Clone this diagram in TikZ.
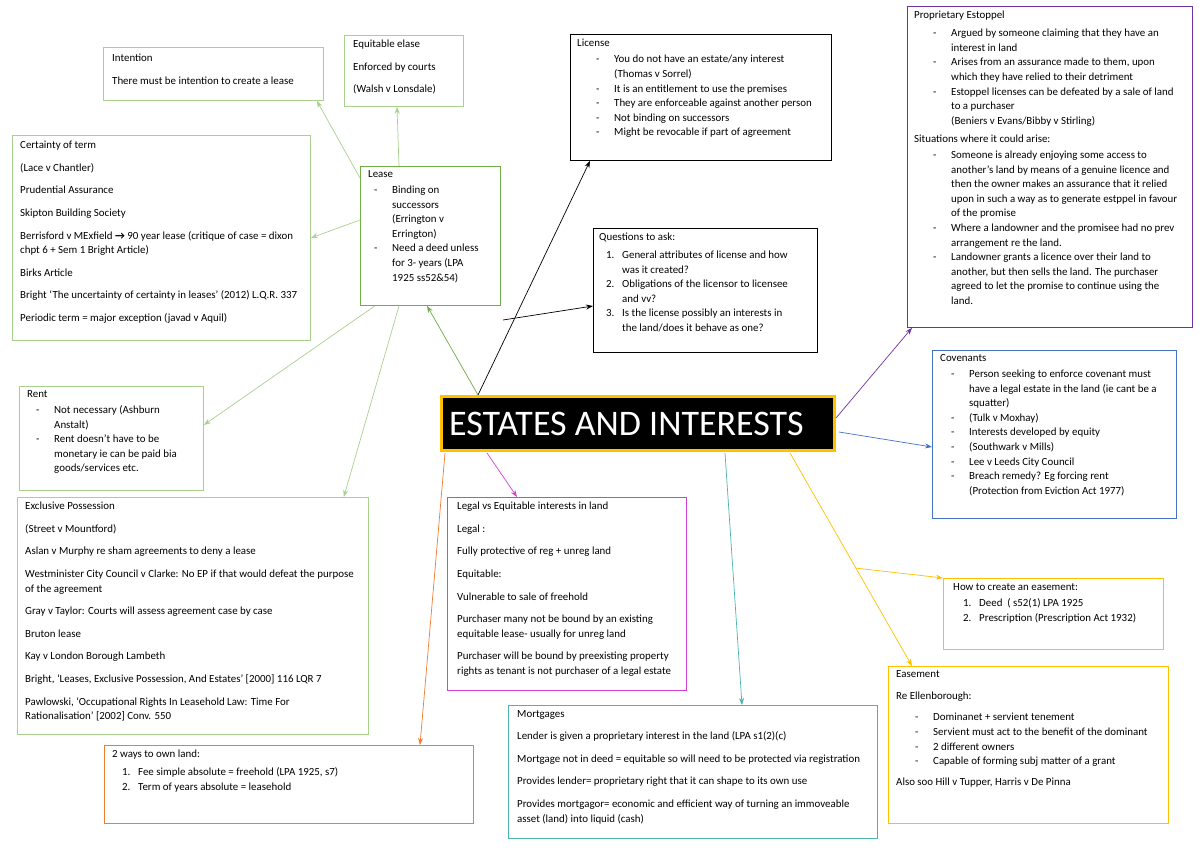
\documentclass[tikz,border=0pt]{standalone}
\usepackage{fontspec}
\setmainfont{Carlito}
\usetikzlibrary{calc,arrows.meta}
\definecolor{lg}{HTML}{A9D18E}
\definecolor{gr}{HTML}{70AD47}
\definecolor{mg}{HTML}{D63FD6}
\definecolor{og}{HTML}{ED7D31}
\definecolor{tl}{HTML}{4BB3B0}
\definecolor{yl}{HTML}{FFC000}
\definecolor{pp}{HTML}{7030A0}
\definecolor{bl}{HTML}{4472C4}
\newcommand{\bx}[7]{\node[draw=#2,line width=#7,anchor=north west,minimum width=#5pt,minimum height=#6pt,inner sep=0] (#1) at (#3,#4) {};}
\newcommand{\tx}[4]{\node[anchor=north west,inner sep=0,align=left,font=\fontsize{10.9}{14.6}\selectfont] (#1) at (#2,#3) {#4};}
\newenvironment{dl}[1]{\begin{tabular}{@{\hspace{#1pt}}p{6pt}@{\hspace{12pt}}l@{}}}{\end{tabular}}
\newenvironment{nl}[1]{\begin{tabular}{@{\hspace{#1pt}}p{8pt}@{\hspace{8pt}}l@{}}}{\end{tabular}}
\tikzset{ar/.style={-{Stealth[length=7pt,width=5pt]},line width=0.7pt}}
\begin{document}
\begin{tikzpicture}[x=1pt,y=-1pt]
\useasboundingbox[fill=white] (0,0) rectangle (1200,848);
% boxes
\bx{intention}{lg}{103}{47}{220}{53}{0.8pt}
\bx{equit}{lg}{344}{35}{119}{71}{0.8pt}
\bx{license}{black}{570}{34}{261}{126}{0.8pt}
\bx{estoppel}{pp}{907}{6}{285}{321}{0.8pt}
\bx{certainty}{lg}{12}{135}{298}{205}{0.8pt}
\bx{lease}{gr}{360}{166}{140}{139}{0.8pt}
\bx{questions}{black}{593}{228}{224}{124}{0.8pt}
\bx{covenants}{bl}{932}{350}{244}{168}{1pt}
\bx{rent}{lg}{19}{386}{184}{104}{0.8pt}
\node[draw=yl,fill=black,line width=3pt,anchor=north west,minimum width=393pt,minimum height=54pt,inner sep=0] (central) at (440,395) {};
\node[text=white,font=\fontsize{36}{40}\selectfont,anchor=west,inner sep=0] (title) at (449,424) {ESTATES AND INTERESTS};
\bx{excl}{lg}{17}{497}{351}{237}{0.8pt}
\bx{legal}{mg}{447}{497}{239}{193}{0.8pt}
\bx{howto}{yl}{943}{578}{220}{71}{1pt}
\bx{easement}{yl}{888}{666}{280}{157}{1pt}
\bx{mortg}{tl}{508}{705}{369}{133}{0.8pt}
\bx{ways}{og}{104}{745}{369}{78}{0.8pt}
% texts
\tx{t1}{112}{54}{Intention\\[8pt]There must be intention to create a lease}
\tx{t2}{353}{40}{Equitable elase\\[8pt]Enforced by courts\\[8pt](Walsh v Lonsdale)}
\tx{t3}{577}{39}{License\\[5pt]\begin{dl}{19}
- & You do not have an estate/any interest\\
 & (Thomas v Sorrel)\\
- & It is an entitlement to use the premises\\
- & They are enforceable against another person\\
- & Not binding on successors\\
- & Might be revocable if part of agreement
\end{dl}}
\tx{t4}{914}{11}{Proprietary Estoppel\\[5pt]\begin{dl}{19}
- & Argued by someone claiming that they have an\\
 & interest in land\\
- & Arises from an assurance made to them, upon\\
 & which they have relied to their detriment\\
- & Estoppel licenses can be defeated by a sale of land\\
 & to a purchaser\\
 & (Beniers v Evans/Bibby v Stirling)
\end{dl}\\[5pt]
Situations where it could arise:\\[5pt]
\begin{dl}{19}
- & Someone is already enjoying some access to\\
 & another's land by means of a genuine licence and\\
 & then the owner makes an assurance that it relied\\
 & upon in such a way as to generate estppel in favour\\
 & of the promise\\
- & Where a landowner and the promisee had no prev\\
 & arrangement re the land.\\
- & Landowner grants a licence over their land to\\
 & another, but then sells the land. The purchaser\\
 & agreed to let the promise to continue using the\\
 & land.
\end{dl}}
\tx{t5}{20}{141}{Certainty of term\\[8pt](Lace v Chantler)\\[8pt]Prudential Assurance\\[8pt]Skipton Building Society\\[8pt]Berrisford v MExfield \textbf{→} 90 year lease (critique of case = dixon\\chpt 6 + Sem 1 Bright Article)\\[8pt]Birks Article\\[8pt]Bright ‘The uncertainty of certainty in leases’ (2012) L.Q.R. 337\\[8pt]Periodic term = major exception (javad v Aquil)}
\tx{t6}{368}{170}{Lease\\[5pt]\begin{dl}{6}
- & Binding on\\
 & successors\\
 & (Errington v\\
 & Errington)\\
- & Need a deed unless\\
 & for 3- years (LPA\\
 & 1925 ss52\&54)
\end{dl}}
\tx{t7}{599}{233}{Questions to ask:\\[5pt]\begin{nl}{7}
1. & General attributes of license and how\\
 & was it created?\\
2. & Obligations of the licensor to licensee\\
 & and vv?\\
3. & Is the license possibly an interests in\\
 & the land/does it behave as one?
\end{nl}}
\tx{t8}{940}{354}{Covenants\\[5pt]\begin{dl}{11}
- & Person seeking to enforce covenant must\\
 & have a legal estate in the land (ie cant be a\\
 & squatter)\\
- & (Tulk v Moxhay)\\
- & Interests developed by equity\\
- & (Southwark v Mills)\\
- & Lee v Leeds City Council\\
- & Breach remedy? Eg forcing rent\\
 & (Protection from Eviction Act 1977)
\end{dl}}
\tx{t9}{27}{390}{Rent\\[5pt]\begin{dl}{9}
- & Not necessary (Ashburn\\
 & Anstalt)\\
- & Rent doesn't have to be\\
 & monetary ie can be paid bia\\
 & goods/services etc.
\end{dl}}
\tx{t10}{25}{502}{Exclusive Possession\\[8pt](Street v Mountford)\\[8pt]Aslan v Murphy re sham agreements to deny a lease\\[8pt]Westminister City Council v Clarke: No EP if that would defeat the purpose\\of the agreement\\[8pt]Gray v Taylor: Courts will assess agreement case by case\\[8pt]Bruton lease\\[8pt]Kay v London Borough Lambeth\\[8pt]Bright, ‘Leases, Exclusive Possession, And Estates’ [2000] 116 LQR 7\\[8pt]Pawlowski, ‘Occupational Rights In Leasehold Law: Time For\\Rationalisation’ [2002] Conv. 550}
\tx{t11}{457}{502}{Legal vs Equitable interests in land\\[8pt]Legal :\\[8pt]Fully protective of reg + unreg land\\[8pt]Equitable:\\[8pt]Vulnerable to sale of freehold\\[8pt]Purchaser many not be bound by an existing\\equitable lease- usually for unreg land\\[8pt]Purchaser will be bound by preexisting property\\rights as tenant is not purchaser of a legal estate}
\tx{t12}{953}{583}{How to create an easement:\\[5pt]\begin{nl}{10}
1. & Deed~~( s52(1) LPA 1925\\
2. & Prescription (Prescription Act 1932)
\end{nl}}
\tx{t13}{896}{670}{Easement\\[8pt]Re Ellenborough:\\[8pt]\begin{dl}{19}
- & Dominanet + servient tenement\\
- & Servient must act to the benefit of the dominant\\
- & 2 different owners\\
- & Capable of forming subj matter of a grant
\end{dl}\\[8pt]Also soo Hill v Tupper, Harris v De Pinna}
\tx{t14}{517}{710}{Mortgages\\[8pt]Lender is given a proprietary interest in the land (LPA s1(2)(c)\\[8pt]Mortgage not in deed = equitable so will need to be protected via registration\\[8pt]Provides lender= proprietary right that it can shape to its own use\\[8pt]Provides mortgagor= economic and efficient way of turning an immoveable\\asset (land) into liquid (cash)}
\tx{t15}{112}{750}{2 ways to own land:\\[5pt]\begin{nl}{10}
1. & Fee simple absolute = freehold (LPA 1925, s7)\\
2. & Term of years absolute = leasehold
\end{nl}}
% connectors
\draw[ar,black] ($(central.north west)+(38,0)$) -- ($(license.south west)+(20,0)$);
\draw[ar,gr] ($(central.north west)+(38,0)$) -- ($(lease.south west)+(67,0)$);
\coordinate (qs) at (503,320);
\draw[ar,black] (qs) -- ($(questions.north west)+(0,78)$);
\draw[ar,lg] ($(lease.north west)+(0,12)$) -- ($(intention.south east)+(-7,0)$);
\draw[ar,lg] ($(lease.north west)+(39,0)$) -- ($(equit.south west)+(53,0)$);
\draw[ar,lg] ($(lease.north west)+(0,54)$) -- ($(certainty.north east)+(0,103)$);
\draw[ar,lg] ($(lease.south west)+(15,0)$) -- ($(rent.north east)+(0,39)$);
\draw[ar,lg] ($(lease.south west)+(39,0)$) -- ($(excl.north east)+(-25,0)$);
\draw[ar,mg] ($(central.south west)+(47,1)$) -- ($(legal.north west)+(70,0)$);
\draw[ar,og] ($(central.south west)+(5,1)$) -- ($(ways.north west)+(316,0)$);
\draw[ar,tl] ($(central.south west)+(285,1)$) -- ($(mortg.north west)+(234,0)$);
\draw[ar,yl] ($(central.south west)+(350,1)$) -- ($(easement.north west)+(24,0)$);
\coordinate (hy) at (855,568);
\draw[ar,yl] (hy) -- ($(howto.north west)+(0,0)$);
\draw[ar,pp] ($(central.north east)+(0,23)$) -- ($(estoppel.south west)+(5,0)$);
\draw[ar,bl] ($(central.north east)+(3,37)$) -- ($(covenants.north west)+(0,97)$);
\end{tikzpicture}
\end{document}
